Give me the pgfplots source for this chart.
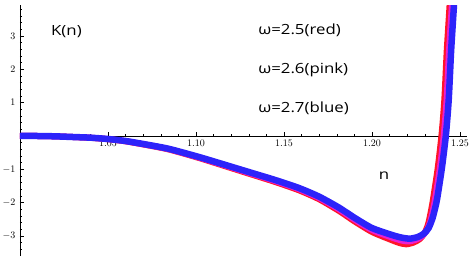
\documentclass[border=0pt]{standalone}
\usepackage{pgfplots}
\pgfplotsset{compat=1.18}
\usepackage{fontspec}
\setmainfont{Open Sans}
\definecolor{cred}{RGB}{255,20,40}
\definecolor{cpink}{RGB}{235,30,210}
\definecolor{cblue}{RGB}{45,35,250}
\begin{document}
\begin{tikzpicture}
\useasboundingbox (-20pt,-12pt) rectangle (454pt,256pt);
\begin{axis}[
  scale only axis, width=447pt, height=251pt,
  at={(0,0)}, anchor=south west,
  xmin=1.0, xmax=1.254, ymin=-3.6, ymax=3.93,
  axis lines=middle, axis line style={-, black, line width=0.6pt},
  xtick={1.05,1.10,1.15,1.20,1.25},
  minor xtick={1.01,1.02,...,1.25},
  ytick={-3,-2,-1,0,1,2,3},
  minor ytick={-3.4,-3.2,...,3.81},
  tick align=inside,
  major tick length=4pt, minor tick length=2pt,
  tick style={black, line width=0.5pt},
  xticklabel style={font=\fontsize{10}{10}\selectfont, yshift=-1pt},
  yticklabel style={font=\fontsize{10}{10}\selectfont, xshift=-1pt},
  xticklabel={\pgfmathprintnumber[fixed,fixed zerofill,precision=2]{\tick}},
  yticklabel={\pgfmathprintnumber{\tick}},
]
\addplot[cred, line width=6pt, line join=round, line cap=round, smooth, tension=0.4] coordinates {
(1.000,0.00) (1.010,0.00) (1.020,-0.01) (1.030,-0.03) (1.040,-0.055) (1.050,-0.095)
(1.060,-0.16) (1.0733,-0.285) (1.085,-0.41) (1.1017,-0.66) (1.115,-0.88) (1.130,-1.13)
(1.145,-1.38) (1.1585,-1.63) (1.170,-1.90) (1.1813,-2.25) (1.190,-2.56) (1.200,-2.88)
(1.2100,-3.10) (1.2155,-3.21) (1.2195,-3.25) (1.2235,-3.20) (1.2270,-3.10) (1.2297,-2.93)
(1.2320,-2.62) (1.2343,-2.02) (1.2373,-0.98) (1.2395,0.03) (1.2411,1.08) (1.2425,2.58)
(1.2441,3.93) (1.2443,4.2)};
\addplot[cpink, line width=6pt, line join=round, line cap=round, smooth, tension=0.4] coordinates {
(1.000,0.00) (1.010,0.00) (1.020,-0.01) (1.030,-0.03) (1.040,-0.052) (1.050,-0.092)
(1.060,-0.155) (1.0733,-0.277) (1.085,-0.40) (1.1017,-0.645) (1.115,-0.86) (1.130,-1.105)
(1.145,-1.35) (1.1585,-1.595) (1.170,-1.86) (1.1813,-2.20) (1.190,-2.505) (1.200,-2.82)
(1.2107,-3.035) (1.2163,-3.13) (1.2206,-3.165) (1.2248,-3.115) (1.2283,-3.015) (1.2310,-2.845)
(1.2333,-2.535) (1.2356,-1.97) (1.2386,-0.955) (1.2408,0.03) (1.2424,1.08) (1.2438,2.58)
(1.2454,3.93) (1.2456,4.2)};
\addplot[cblue, line width=6.5pt, line join=round, line cap=round, smooth, tension=0.4] coordinates {
(1.000,0.00) (1.010,0.00) (1.020,-0.01) (1.030,-0.03) (1.040,-0.05) (1.050,-0.09)
(1.060,-0.15) (1.0733,-0.27) (1.085,-0.39) (1.1017,-0.63) (1.115,-0.84) (1.130,-1.08)
(1.145,-1.32) (1.1585,-1.56) (1.170,-1.82) (1.1813,-2.15) (1.190,-2.45) (1.200,-2.76)
(1.2114,-2.97) (1.2170,-3.05) (1.2216,-3.08) (1.2260,-3.03) (1.2295,-2.93) (1.2322,-2.76)
(1.2345,-2.45) (1.2369,-1.92) (1.2398,-0.93) (1.2420,0.03) (1.2436,1.08) (1.2450,2.58)
(1.2466,3.93) (1.2468,4.2)};
\node[anchor=west, font=\fontsize{14}{14}\selectfont, xscale=1.2] at (axis cs:1.0153,3.12) {K(n)};
\node[anchor=west, font=\fontsize{14}{14}\selectfont, xscale=1.2] at (axis cs:1.133,3.18) {ω=2.5(red)};
\node[anchor=west, font=\fontsize{14}{14}\selectfont, xscale=1.2] at (axis cs:1.133,1.98) {ω=2.6(pink)};
\node[anchor=west, font=\fontsize{14}{14}\selectfont, xscale=1.2] at (axis cs:1.133,0.84) {ω=2.7(blue)};
\node[font=\fontsize{14}{14}\selectfont, xscale=1.2] at (axis cs:1.2068,-1.2) {n};
\end{axis}
\end{tikzpicture}
\end{document}
